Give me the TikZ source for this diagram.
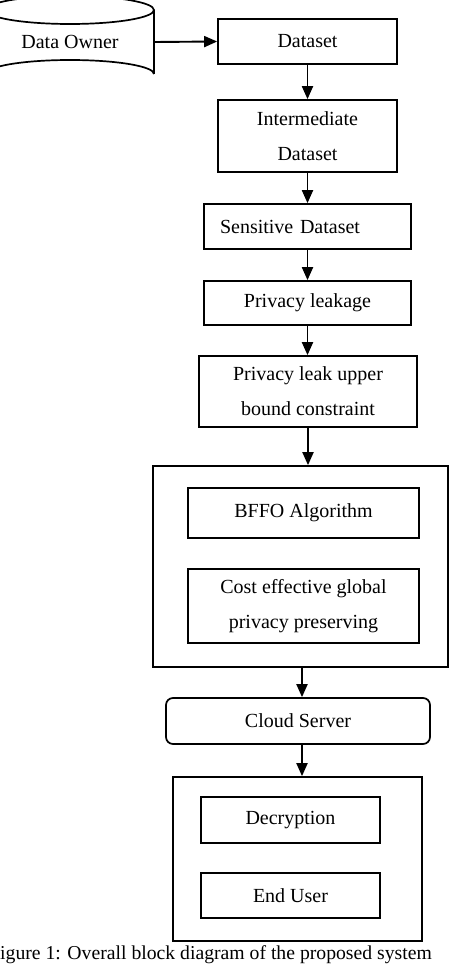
\documentclass[tikz,border=0pt]{standalone}
\usepackage{fontspec}
\setmainfont{Liberation Serif}
\usetikzlibrary{arrows.meta}
\begin{document}
\begin{tikzpicture}[x=1pt,y=-1pt,
  box/.style={draw, line width=1.7pt, inner sep=0pt, align=center,
    font=\fontsize{20}{35}\selectfont},
  arr/.style={-{Triangle[length=13pt,width=11pt]}, line width=1.9pt},
  cyl/.style={line width=1.7pt}
]
\useasboundingbox (0,0) rectangle (474,974);
% cylinder (Data Owner)
\begin{scope}
\clip (0,0) rectangle (474,974);
\draw[cyl] (70,10) ellipse [x radius=84, y radius=14];
\draw[cyl] (154,10) -- (154,74);
\draw[cyl] (-14,10) -- (-14,74);
\draw[cyl] (-14,74) arc[start angle=180, end angle=360, x radius=84, y radius=14];
\end{scope}
\node[inner sep=0pt, minimum width=168pt, minimum height=60pt,
  font=\fontsize{20}{35}\selectfont] (owner) at (70,42) {Data Owner};

\node[box, minimum width=179pt, minimum height=45pt] (ds) at (307.5,41.5) {Dataset};
\node[box, minimum width=179pt, minimum height=72pt] (inter) at (307.5,136) {Intermediate\\Dataset};
\node[box, minimum height=45pt, text width=175pt, inner xsep=16pt, align=left] (sens) at (307.5,226.5) {Sensitive Dataset};
\node[box, minimum width=207pt, minimum height=44pt] (leak) at (307.5,303) {Privacy leakage};
\node[box, minimum width=218pt, minimum height=71pt] (bound) at (308,391.5) {Privacy leak upper\\bound constraint};

\node[box, minimum width=295pt, minimum height=201pt] (big1) at (300.5,566.5) {};
\node[box, minimum width=231pt, minimum height=50pt] (bffo) at (303.5,513) {BFFO Algorithm};
\node[box, minimum width=231pt, minimum height=74pt] (cost) at (303.5,606) {Cost effective global\\privacy preserving};

\node[box, rounded corners=7pt, minimum width=264pt, minimum height=46pt] (cloud) at (298,721) {Cloud Server};

\node[box, minimum width=249pt, minimum height=164pt] (big2) at (297.5,859) {};
\node[box, minimum width=179pt, minimum height=46pt] (dec) at (290.5,820) {Decryption};
\node[box, minimum width=179pt, minimum height=45pt] (end) at (290.5,895.5) {End User};

\node[anchor=base west, inner sep=0pt, font=\fontsize{19.7}{20}\selectfont] (cap) at (0,959) {igure 1: Overall block diagram of the proposed system};

% connectors
\draw[arr] (owner.east) -- (ds.west);
\draw[arr] (ds.south) -- (inter.north);
\draw[arr] (inter.south) -- (inter.south |- sens.north);
\draw[arr] (sens.south) -- (leak.north);
\draw[arr] (leak.south) -- (leak.south |- bound.north);
\draw[arr] (bound.south) -- (bound.south |- big1.north);
\draw[arr] ([xshift=1.5pt]big1.south) -- ([xshift=1.5pt]big1.south |- cloud.north);
\draw[arr] ([xshift=4pt]cloud.south) -- ([xshift=4pt]cloud.south |- big2.north);
\end{tikzpicture}
\end{document}
